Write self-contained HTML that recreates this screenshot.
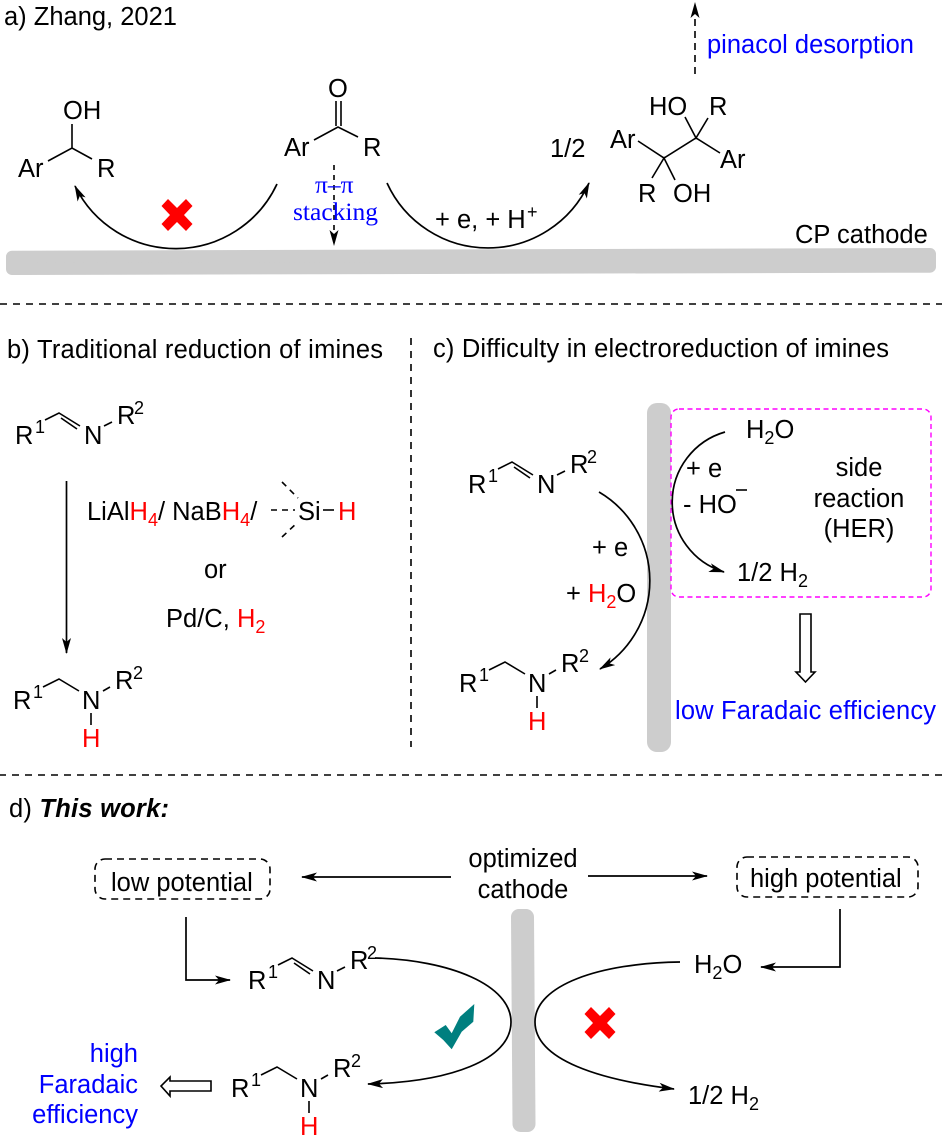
<!DOCTYPE html>
<html><head><meta charset="utf-8"><style>
html,body{margin:0;padding:0;background:#fff}
svg{display:block}
text{font-family:"Liberation Sans",sans-serif;font-size:25.5px;fill:#000}
.s{font-size:18px}
.b{fill:#00f}
.r{fill:#f00}
.t{font-family:"Liberation Serif",serif;fill:#00f}
.l{stroke:#000;stroke-width:1.6;fill:none}
.a{stroke:#000;stroke-width:1.7;fill:none}
.d{stroke:#000;stroke-width:1.6;fill:none;stroke-dasharray:7 6}
.bar{fill:#cdcdcd;stroke:#cdcdcd;stroke-width:12;stroke-linejoin:round}
.ho{fill:#fff;stroke:#000;stroke-width:1.6}
</style></head><body>
<svg xmlns="http://www.w3.org/2000/svg" width="942" height="1139" viewBox="0 0 942 1139">
<defs>
<marker id="h" markerUnits="userSpaceOnUse" markerWidth="16" markerHeight="9" refX="15" refY="4.5" orient="auto" viewBox="0 0 16 9">
<path d="M16 4.5L0 0L4 4.5L0 9Z" fill="#000"/></marker>
</defs>
<rect width="942" height="1139" fill="#fff"/>

<!-- bars -->
<polygon class="bar" points="12,256.7 930,254 930,266.7 12,269"/>
<rect x="647" y="403" width="24" height="349" rx="10" fill="#cdcdcd"/>
<polygon points="519,917 526,917 527.5,1124 520.5,1124" fill="#cdcdcd" stroke="#cdcdcd" stroke-width="16" stroke-linejoin="round"/>

<!-- separators -->
<line class="d" x1="0" y1="304" x2="942" y2="304"/>
<line class="d" x1="0" y1="775" x2="942" y2="775" style="stroke-dasharray:7 6;stroke-dashoffset:1"/>
<line class="d" x1="411" y1="338" x2="411" y2="747"/>

<!-- panel a -->
<text x="4" y="25">a) Zhang, 2021</text>
<text x="63" y="119">OH</text><text x="18" y="177">Ar</text><text x="97" y="177">R</text>
<path class="l" d="M72 124V148M48 161L72 148L92 159"/>
<text x="328" y="97">O</text><text x="284" y="156">Ar</text><text x="363" y="156">R</text>
<path class="l" d="M336 101V126M341 101V126M314 140L338 127L358 137"/>
<path class="a" d="M277 184A112 112 0 0 1 75 186" marker-end="url(#h)"/>
<polygon fill="#f00" transform="translate(177,215)" points="-9,-16 0,-7 9,-16 15.5,-9 7,0 15.5,9 9,16 0,7 -9,16 -15.5,9 -7,0 -15.5,-9"/>
<path class="d" style="stroke-dasharray:5 5" d="M334 165V245" marker-end="url(#h)"/>
<text class="t" x="315" y="193">π–π</text>
<text class="t" x="293" y="220">stacking</text>
<path class="a" d="M387 183A111 111 0 0 0 589 183" marker-end="url(#h)"/>
<text x="435" y="228">+ e, + H</text><text class="s" x="527" y="218">+</text>
<text x="550" y="157">1/2</text>
<text x="649" y="115">HO</text><text x="709" y="115">R</text><text x="610" y="148">Ar</text><text x="720" y="168">Ar</text><text x="638" y="202">R</text><text x="673" y="202">OH</text>
<path class="l" d="M638 141L664 158L696 138L720 153M685 117L696 138L708 118M652 178L664 158L675 180"/>
<path class="d" style="stroke-dasharray:7 5" d="M695 74V3" marker-end="url(#h)"/>
<text class="b" x="707" y="53">pinacol desorption</text>
<text x="795" y="243">CP cathode</text>

<!-- panel b -->
<text x="7" y="358" textLength="376">b) Traditional reduction of imines</text>
<g>
<text x="15" y="444">R</text><text class="s" x="35" y="433">1</text><text x="84" y="444">N</text><text x="117" y="424">R</text><text class="s" x="134" y="414">2</text>
<path class="l" d="M45 420L59 413L80 426M61 418L77 429M104 426L112 422"/>
</g>
<path class="a" d="M66.5 481V653" marker-end="url(#h)"/>
<text x="87" y="520">LiAl<tspan class="r">H</tspan><tspan class="r s" dy="6">4</tspan><tspan dy="-6">/ NaB</tspan><tspan class="r">H</tspan><tspan class="r s" dy="6">4</tspan><tspan dy="-6">/</tspan></text>
<text x="298" y="520">Si</text><text class="r" x="338" y="520">H</text>
<path class="l" d="M323 510H334"/>
<path class="l" style="stroke-dasharray:6 5" d="M271 510H295M282 482L298 498M282 537L298 522"/>
<text x="204" y="578">or</text>
<text x="166" y="627">Pd/C, </text><text class="r" x="237" y="627">H<tspan class="s" dy="6">2</tspan></text>
<g>
<text x="13" y="709">R</text><text class="s" x="33" y="698">1</text><text x="82" y="709">N</text><text x="115" y="689">R</text><text class="s" x="133" y="679">2</text>
<path class="l" d="M43 687L59 679L79 691M103 691L110 687M91 713V725"/>
<text class="r" x="82" y="747">H</text>
</g>

<!-- panel c -->
<text x="433" y="357" textLength="456">c) Difficulty in electroreduction of imines</text>
<g transform="translate(453,49)">
<text x="15" y="444">R</text><text class="s" x="35" y="433">1</text><text x="84" y="444">N</text><text x="117" y="424">R</text><text class="s" x="134" y="414">2</text>
<path class="l" d="M45 420L59 413L80 426M61 418L77 429M104 426L112 422"/>
</g>
<g transform="translate(446,-17)">
<text x="13" y="709">R</text><text class="s" x="33" y="698">1</text><text x="82" y="709">N</text><text x="115" y="689">R</text><text class="s" x="133" y="679">2</text>
<path class="l" d="M43 687L59 679L79 691M103 691L110 687M91 713V725"/>
<text class="r" x="82" y="747">H</text>
</g>
<path class="a" d="M599 492A103 103 0 0 1 600 669" marker-end="url(#h)"/>
<text x="592" y="556">+ e</text>
<text x="566" y="602">+ <tspan class="r">H</tspan><tspan class="r s" dy="6">2</tspan><tspan dy="-6">O</tspan></text>
<rect x="671" y="409" width="260" height="188" rx="8" fill="none" stroke="#f0f" stroke-width="1.4" stroke-dasharray="5 3.5"/>
<text x="746" y="438">H<tspan class="s" dy="6">2</tspan><tspan dy="-6">O</tspan></text>
<path class="a" d="M725 432A73 73 0 0 0 724 572" marker-end="url(#h)"/>
<text x="686" y="477">+ e</text>
<text x="683" y="513">- HO</text>
<path class="l" d="M736 490H747"/>
<g text-anchor="middle"><text x="859" y="476">side</text><text x="859" y="507">reaction</text><text x="859" y="537">(HER)</text></g>
<text x="737" y="581">1/2 H<tspan class="s" dy="6">2</tspan></text>
<polygon class="ho" points="800,614 811,614 811,672 815,672 805.5,682 796,672 800,672"/>
<text class="b" x="675" y="719" textLength="261">low Faradaic efficiency</text>

<!-- panel d -->
<text x="9" y="817" textLength="160">d) <tspan font-weight="bold" font-style="italic">This work:</tspan></text>
<rect x="95" y="859" width="175" height="40" rx="10" fill="none" stroke="#000" stroke-width="1.6" stroke-dasharray="7 5"/>
<text x="111" y="891">low potential</text>
<path class="a" d="M451 877H302" marker-end="url(#h)"/>
<g text-anchor="middle"><text x="523" y="867">optimized</text><text x="523" y="898">cathode</text></g>
<path class="a" d="M588 876H707" marker-end="url(#h)"/>
<rect x="737" y="857" width="181" height="40" rx="10" fill="none" stroke="#000" stroke-width="1.6" stroke-dasharray="7 5"/>
<text x="750" y="887">high potential</text>
<path class="a" d="M840 909V967H761" marker-end="url(#h)"/>
<text x="694" y="973">H<tspan class="s" dy="6">2</tspan><tspan dy="-6">O</tspan></text>
<path class="a" d="M186 917V980H230" marker-end="url(#h)"/>
<g transform="translate(233,545)">
<text x="15" y="444">R</text><text class="s" x="35" y="433">1</text><text x="84" y="444">N</text><text x="117" y="424">R</text><text class="s" x="134" y="414">2</text>
<path class="l" d="M45 420L59 413L80 426M61 418L77 429M104 426L112 422"/>
</g>
<g transform="translate(218,388)">
<text x="13" y="709">R</text><text class="s" x="33" y="698">1</text><text x="82" y="709">N</text><text x="115" y="689">R</text><text class="s" x="133" y="679">2</text>
<path class="l" d="M43 687L59 679L79 691M103 691L110 687M91 713V725"/>
<text class="r" x="82" y="747">H</text>
</g>
<path class="a" d="M375 958C450 960 511 985 511 1022C511 1060 450 1082 368 1084" marker-end="url(#h)"/>
<path class="a" d="M680 962C600 963 535 985 535 1022C535 1060 600 1080 674 1089" marker-end="url(#h)"/>
<polygon fill="#007f7f" points="434.3,1032.3 445.7,1025 451.7,1033.3 460,1016.7 474.3,1004 473.3,1021.7 461.7,1031.7 451.7,1049.3 443.3,1040"/>
<polygon fill="#f00" transform="translate(600,1023)" points="-9,-16 0,-7 9,-16 15.5,-9 7,0 15.5,9 9,16 0,7 -9,16 -15.5,9 -7,0 -15.5,-9"/>
<text x="688" y="1104">1/2 H<tspan class="s" dy="6">2</tspan></text>
<g text-anchor="end"><text class="b" x="138" y="1062">high</text><text class="b" x="138" y="1093">Faradaic</text><text class="b" x="138" y="1123">efficiency</text></g>
<polygon class="ho" points="211,1081 170,1081 170,1077 161,1086 170,1096 170,1091 211,1091"/>
</svg>
</body></html>
